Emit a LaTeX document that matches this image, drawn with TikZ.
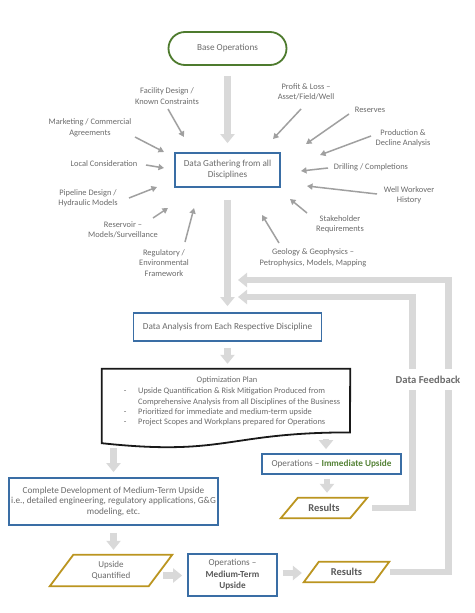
\documentclass[tikz,border=0pt]{standalone}
\usepackage{fontspec}
\setmainfont{Carlito}
\usetikzlibrary{arrows.meta,calc}
\definecolor{txt}{HTML}{6B6B6B}
\definecolor{dk}{HTML}{595959}
\definecolor{bluec}{HTML}{3A6EA5}
\definecolor{greenc}{HTML}{4E7B2E}
\definecolor{greentxt}{HTML}{548235}
\definecolor{goldc}{HTML}{BB9520}
\definecolor{fatc}{HTML}{D9D9D9}
\definecolor{thinc}{HTML}{A0A0A0}
\tikzset{
  lbl/.style={font=\fontsize{8.4}{10.4}\selectfont, text=txt, align=center, inner sep=0pt},
  bluebox/.style={draw=bluec, line width=1.8pt, font=\fontsize{9.2}{11}\selectfont, text=txt, align=center, inner sep=2pt},
  paratext/.style={inner sep=0pt, align=center, text=txt},
  parashape/.style={draw=goldc, line width=1.8pt, line join=miter},
  fat/.style={draw=fatc, line width=6.5pt, -{Triangle[length=9pt,width=14pt]}},
  thinarr/.style={draw=thinc, line width=1.5pt, -{Triangle[length=5.5pt,width=6pt]}},
}
\begin{document}
\begin{tikzpicture}[x=1pt,y=-1pt]
\fill[white] (0,0) rectangle (474,613);
\useasboundingbox (0,0) rectangle (474,613);

% main nodes
\node[draw=greenc, line width=1.8pt, rounded corners=16.5pt, minimum width=118pt, minimum height=33pt,
      font=\fontsize{9.2}{11}\selectfont, text=txt] (base) at (227.5,48.5) {Base Operations};
\node[bluebox, minimum width=105pt, minimum height=34pt] (gather) at (227.5,170) {Data Gathering from all\\Disciplines};
\node[bluebox, minimum width=188pt, minimum height=28pt] (analysis) at (227.5,327) {Data Analysis from Each Respective Discipline};

% optimization plan (document shape)
\node[minimum width=248pt, minimum height=74pt, inner sep=0pt] (opt) at (226,406) {};
\draw[line width=1.8pt, draw=black!90] (opt.north west) -- (opt.north east) -- (350,432.4)
   .. controls (226,432.4) and (226,456.5) .. (opt.south west) -- cycle;
\node[lbl] (opttitle) at (227,380) {Optimization Plan};
\node[lbl, anchor=north west, align=left] (optlist) at (123.7,386.3) {%
  \begin{tabular}{@{}l@{\hspace{11.7pt}}l@{}}
  - & Upside Quantification \& Risk Mitigation Produced from\\
    & Comprehensive Analysis from all Disciplines of the Business\\
  - & Prioritized for immediate and medium-term upside\\
  - & Project Scopes and Workplans prepared for Operations
  \end{tabular}};

\node[bluebox, minimum width=139pt, minimum height=20pt] (ops1) at (331.5,464)
  {Operations -- {\bfseries\color{greentxt}Immediate Upside}};
\node[bluebox, minimum width=205pt, minimum height=47pt, font=\fontsize{9.2}{10.2}\selectfont] (dev) at (113.5,501.5)
  {Complete Development of Medium-Term Upside\\i.e., detailed engineering, regulatory applications, G\&G\\modeling, etc.};
\node[bluebox, minimum width=89pt, minimum height=42pt, font=\fontsize{9.2}{11.5}\selectfont] (ops2) at (232.5,575)
  {Operations --\\{\bfseries\color{dk}Medium-Term}\\{\bfseries\color{dk}Upside}};

% parallelograms
\node[paratext, minimum width=86pt, minimum height=20pt, font=\fontsize{10.5}{12}\selectfont\bfseries, text=dk] (res1) at (324,508) {Results};
\draw[parashape] ([xshift=17pt]res1.north west) -- (res1.north east) -- ([xshift=-17pt]res1.south east) -- (res1.south west) -- cycle;
\node[paratext, minimum width=85pt, minimum height=20pt, font=\fontsize{10.5}{12}\selectfont\bfseries, text=dk] (res2) at (346.5,572) {Results};
\draw[parashape] ([xshift=15pt]res2.north west) -- (res2.north east) -- ([xshift=-15pt]res2.south east) -- (res2.south west) -- cycle;
\node[paratext, minimum width=122pt, minimum height=31pt, font=\fontsize{9}{11}\selectfont] (upq) at (111,570.5) {Upside\\Quantified};
\draw[parashape] ([xshift=23.5pt]upq.north west) -- (upq.north east) -- ([xshift=-23.5pt]upq.south east) -- (upq.south west) -- cycle;

% fat arrows
\draw[fat] ([yshift=-10pt]base.south) -- ([yshift=9pt]gather.north);
\draw[fat] ([yshift=-12pt]gather.south) -- ([yshift=6pt]analysis.north);
\draw[fat] ([yshift=-6pt]analysis.south) -- ($(analysis.south |- opt.north)+(0,-5)$);
\draw[fat] ($(dev.north |- opt.south)+(0,5)$) -- ($(dev.north)+(0,-5)$);
\draw[fat] ($(ops1.north |- opt.south)+(-5.5,-4)$) -- ($(ops1.north)+(-5.5,-4)$);
\draw[fat] ($(ops1.south)+(-4.5,4)$) -- ($(ops1.south |- res1.north)+(-4.5,-5)$);
\draw[fat] ($(dev.south)+(0,7)$) -- ($(dev.south |- upq.north)+(0,-5)$);
\draw[fat] ($(upq.east |- ops2.west)+(-9,0.5)$) -- ($(ops2.west)+(-5,0.5)$);
\draw[fat] ($(ops2.east)+(5,-2)$) -- ($(ops2.east)+(24,-2)$);

% feedback loops
\coordinate (fbtip1) at (238,280);
\coordinate (fbtip2) at (238,297);
\draw[fat] ([xshift=1pt]res2.east) -| (448.5,280) -- (fbtip1);
\draw[fat] ([xshift=5pt]res1.east) -| (412.5,297) -- (fbtip2);
\node[fill=white, inner xsep=4pt, inner ysep=7pt, font=\fontsize{10.6}{12}\selectfont\bfseries, text=txt] (fblabel) at (428,379.5) {Data Feedback};

% discipline labels
\node[lbl] (fac)  at (167,96)    {Facility Design /\\Known Constraints};
\node[lbl] (pl)   at (306,92)    {Profit \& Loss --\\Asset/Field/Well};
\node[lbl] (mkt)  at (90,128)    {Marketing / Commercial\\Agreements};
\node[lbl] (rsvs) at (370,110)   {Reserves};
\node[lbl] (prod) at (403,138)   {Production \&\\Decline Analysis};
\node[lbl] (loc)  at (104,164)   {Local Consideration};
\node[lbl] (dri)  at (371,167)   {Drilling / Completions};
\node[lbl] (pip)  at (88,198.5)  {Pipeline Design /\\Hydraulic Models};
\node[lbl] (wwo)  at (409,195.5) {Well Workover\\History};
\node[lbl] (rsv)  at (123,229.5) {Reservoir --\\Models/Surveillance};
\node[lbl] (stk)  at (340,224)   {Stakeholder\\Requirements};
\node[lbl] (reg)  at (164,263)   {Regulatory /\\Environmental\\Framework};
\node[lbl] (geo)  at (313,258)   {Geology \& Geophysics --\\Petrophysics, Models, Mapping};

% thin arrows: start near label, end near gather box
\foreach \n/\sx/\sy/\ex/\ey in {
  fac/168/109/184/137, pl/301/109/273/139, mkt/135/137/164/152,
  rsvs/349/114/306/144, prod/371/136/320/155, loc/146/165/164/168,
  dri/328/168/301/171, pip/129/198/157/187, wwo/377/194/307/186,
  rsv/153/218/168/208, reg/185/242/194/208, stk/307/213/290/199,
  geo/279/243/262/215}{
  \coordinate (\n-s) at (\sx,\sy);
  \coordinate (\n-e) at (\ex,\ey);
  \draw[thinarr] (\n-s) -- (\n-e);
}
\end{tikzpicture}
\end{document}
